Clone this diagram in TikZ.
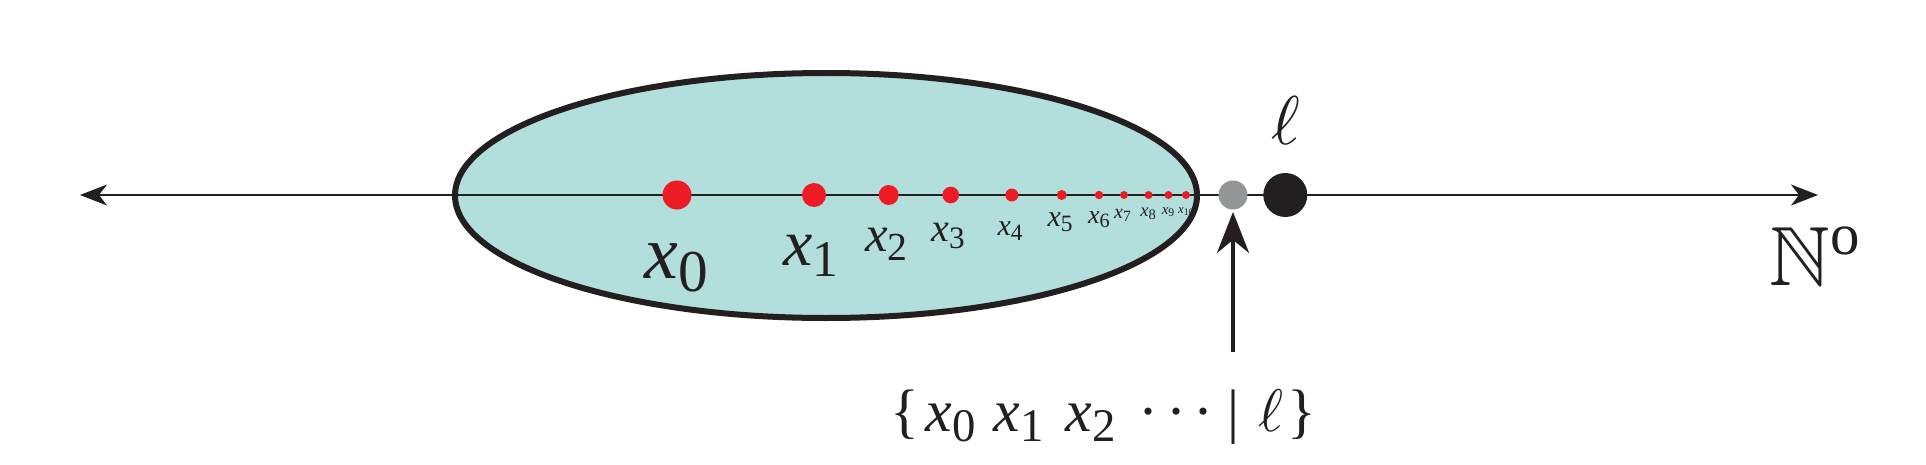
\documentclass[tikz,border=0pt]{standalone}
\usepackage{amssymb}
\usepackage{fontspec}
\setmainfont{Liberation Serif}
\usetikzlibrary{arrows.meta}
\definecolor{teal}{RGB}{178,223,219}
\definecolor{dotred}{RGB}{237,28,36}
\definecolor{dotgray}{RGB}{147,149,152}
\definecolor{ink}{RGB}{35,31,32}
\newcommand\xsub[1]{{\itshape x}\raisebox{-0.17em}{\scalebox{0.78}{#1}}}
\newcommand\putat[2]{\rlap{\hspace*{#1}\makebox[0pt][c]{#2}}}
\newcommand\fsz[1]{\fontsize{#1}{#1}\selectfont}
\newcommand\bigell[1]{\scalebox{#1}{\normalsize$\ell$}}
\tikzset{
  dot/.style={circle, inner sep=0pt, fill=dotred, minimum size=#1},
  lab/.style={inner sep=0pt, anchor=base, text=ink},
  axis/.style={draw=ink, line width=0.8pt, {Stealth[length=13.5pt,width=10.5pt,inset=4pt]}-{Stealth[length=13.5pt,width=10.5pt,inset=4pt]}},
  pointer/.style={draw=ink, line width=2.1pt, -{Stealth[length=20.5pt,width=16pt,inset=6.5pt]}, shorten >=1pt},
  region/.style={line width=3pt, draw=ink}
}
\begin{document}
\begin{tikzpicture}[x=0.5pt, y=-0.5pt]
\useasboundingbox (0,0) rectangle (1926,465);
% filled region
\fill[teal] (826,195.5) ellipse [x radius=371, y radius=122.5];
% labels of the sequence
\node[lab, font=\fsz{38pt}] (l0) at (676,278.5) {\xsub{0}};
\node[lab, font=\fsz{33pt}] (l1) at (811,265) {\xsub{1}};
\node[lab, font=\fsz{25.5pt}] (l2) at (886.5,251.7) {\xsub{2}};
\node[lab, font=\fsz{20pt}] (l3) at (948,241.7) {\xsub{3}};
\node[lab, font=\fsz{15pt}] (l4) at (1010,235) {\xsub{4}};
\node[lab, font=\fsz{15pt}] (l5) at (1060,226.7) {\xsub{5}};
\node[lab, font=\fsz{13pt}] (l6) at (1099,223.3) {\xsub{6}};
\node[lab, font=\fsz{10pt}] (l7) at (1122.5,218.3) {\xsub{7}};
\node[lab, font=\fsz{9.3pt}] (l8) at (1148,216.7) {\xsub{8}};
\node[lab, font=\fsz{7.5pt}] (l9) at (1168,214.3) {\xsub{9}};
\node[lab, font=\fsz{6.4pt}] (l10) at (1186,213.3) {\xsub{10}};
% outline
\draw[region] (826,195.5) ellipse [x radius=371, y radius=122.5];
% axis
\coordinate (leftend) at (80,195);
\coordinate (rightend) at (1818,195);
\draw[axis] (leftend) -- (rightend);
% points
\node[dot=14.5pt] (d0) at (677,195) {};
\node[dot=12pt] (d1) at (814,195) {};
\node[dot=10pt] (d2) at (888.7,195) {};
\node[dot=8.3pt] (d3) at (950.7,195) {};
\node[dot=6.5pt] (d4) at (1011.8,195) {};
\node[dot=5pt] (d5) at (1061.7,195) {};
\node[dot=4.2pt] (d6) at (1099,195) {};
\node[dot=4pt] (d7) at (1124,195) {};
\node[dot=4pt] (d8) at (1148.5,195) {};
\node[dot=4pt] (d9) at (1168.5,195) {};
\node[dot=4pt] (d10) at (1186,195) {};
\node[dot=14.5pt, fill=dotgray] (gray) at (1233,195) {};
\node[dot=22pt, fill=ink] (limit) at (1285.3,195) {};
% ell label
\node[lab] (ell) at (1286,144.5) {\bigell{3.45}};
% N label
\node[inner sep=0pt, anchor=base west, text=ink] (nat) at (1769,285) {\scalebox{4.2}{\normalsize$\mathbb{N}^{\mathrm{o}}$}};
% pointer
\coordinate (foot) at (1233,352);
\draw[pointer] (foot) -- (gray.south);
% set label
\node[inner sep=0pt, anchor=base west, text=ink, font=\fsz{30pt}] (setlabel) at (895,431.7)
 {\putat{4.25pt}{\{}\putat{27pt}{\xsub{0}}\putat{61.25pt}{\xsub{1}}\putat{97pt}{\xsub{2}}%
  \putat{125.9pt}{\textperiodcentered}\putat{140pt}{\textperiodcentered}\putat{153.4pt}{\textperiodcentered}%
  \putat{168.5pt}{|}\putat{187.5pt}{\bigell{3}}\putat{202.75pt}{\}}};
\end{tikzpicture}
\end{document}
